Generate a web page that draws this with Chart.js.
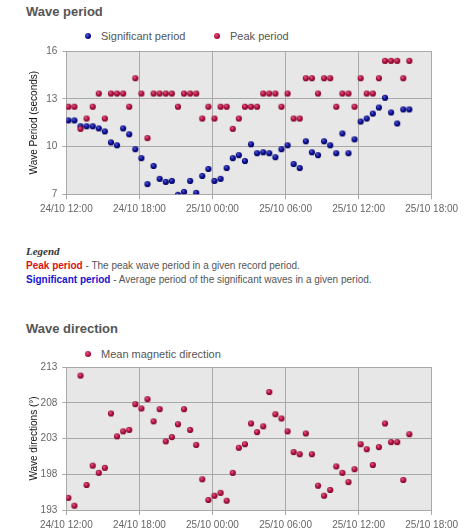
<!DOCTYPE html>
<html>
<head>
<meta charset="utf-8">
<script src="https://cdn.jsdelivr.net/npm/chart.js@4/dist/chart.umd.min.js"></script>
<style>
  html, body { margin:0; padding:0; background:#fff; }
  body { width:476px; height:532px; position:relative; overflow:hidden; font-family:"Liberation Sans", Arial, Helvetica, sans-serif; }
  .title { position:absolute; left:26px; font-weight:bold; font-size:13px; color:#555; line-height:16px; }
  .leg { position:absolute; font-size:11px; color:#555; line-height:14px; white-space:nowrap; }
  .dot { position:absolute; width:6px; height:6px; border-radius:50%; }
  .dot.red { background: radial-gradient(circle at 35% 35%, #e8507c 0%, #b01040 55%, #6a0020 100%); }
  .dot.blue { background: radial-gradient(circle at 35% 35%, #4a5ad8 0%, #0c0c90 55%, #000050 100%); }
  .note { position:absolute; left:26px; font-size:10px; color:#555; line-height:13px; white-space:nowrap; }
  canvas { position:absolute; left:0; }
</style>
</head>
<body>
<div class="title" style="top:4px;">Wave period</div>
<div class="dot blue" style="left:85px; top:33px;"></div>
<div class="leg" style="left:101px; top:29px;">Significant period</div>
<div class="dot red" style="left:214px; top:33px;"></div>
<div class="leg" style="left:230px; top:29px;">Peak period</div>
<canvas id="c1" width="476" height="185" style="top:40px;"></canvas>

<div class="note" style="top:245px; font-family:'Liberation Serif','Times New Roman',serif; font-style:italic; font-weight:bold; color:#333; font-size:11px;">Legend</div>
<div class="note" style="top:259px;"><b style="color:#e01010;">Peak period</b> - The peak wave period in a given record period.</div>
<div class="note" style="top:272.5px;"><b style="color:#1515d0;">Significant period</b> - Average period of the significant waves in a given period.</div>

<div class="title" style="top:321px;">Wave direction</div>
<div class="dot red" style="left:85px; top:351px;"></div>
<div class="leg" style="left:101px; top:347px;">Mean magnetic direction</div>
<canvas id="c2" width="476" height="176" style="top:356px;"></canvas>

<script>
// ---- data ----
const times = [
  '24/10 12:10','24/10 12:40','24/10 13:10','24/10 13:40','24/10 14:10','24/10 14:40',
  '24/10 15:10','24/10 15:40','24/10 16:10','24/10 16:40','24/10 17:10','24/10 17:40',
  '24/10 18:10','24/10 18:40','24/10 19:10','24/10 19:40','24/10 20:10','24/10 20:40',
  '24/10 21:10','24/10 21:40','24/10 22:10','24/10 22:40','24/10 23:10','24/10 23:40',
  '25/10 00:10','25/10 00:40','25/10 01:10','25/10 01:40','25/10 02:10','25/10 02:40',
  '25/10 03:10','25/10 03:40','25/10 04:10','25/10 04:40','25/10 05:10','25/10 05:40',
  '25/10 06:10','25/10 06:40','25/10 07:10','25/10 07:40','25/10 08:10','25/10 08:40',
  '25/10 09:10','25/10 09:40','25/10 10:10','25/10 10:40','25/10 11:10','25/10 11:40',
  '25/10 12:10','25/10 12:40','25/10 13:10','25/10 13:40','25/10 14:10','25/10 14:40',
  '25/10 15:10','25/10 15:40','25/10 16:10'
];
const peakPeriod = [
  12.5,12.5,11.11,11.76,12.5,13.33,11.76,13.33,13.33,13.33,
  12.5,14.29,13.33,10.53,13.33,13.33,13.33,13.33,12.5,13.33,
  13.33,13.33,11.76,12.5,11.76,12.5,12.5,11.11,11.76,12.5,
  12.5,12.5,13.33,13.33,13.33,12.5,13.33,11.76,11.76,14.29,
  14.29,13.33,14.29,14.29,12.5,13.33,13.33,12.5,14.29,13.33,
  13.33,14.29,15.38,15.38,15.38,14.29,15.38
];
const significantPeriod = [
  11.64,11.64,11.27,11.27,11.27,11.14,10.95,10.26,10.08,11.14,
  10.77,9.83,9.27,7.64,8.78,7.97,7.78,7.84,6.97,7.15,
  7.84,7.09,8.15,8.59,7.84,7.97,8.65,9.27,9.46,9.09,
  10.14,9.58,9.64,9.58,9.33,9.83,10.08,8.9,8.65,10.33,
  9.64,9.46,10.33,10.08,9.58,10.82,9.58,10.45,11.57,11.76,
  12.07,12.45,13.06,12.14,11.45,12.33,12.33
];
const meanDirection = [
  194.7,193.6,211.8,196.5,199.2,198.2,198.9,206.5,203.3,204.0,
  204.2,207.8,207.2,208.5,205.4,207.1,202.6,203.2,205.0,207.1,
  204.2,202.1,197.3,194.4,195.0,195.4,194.3,198.2,201.7,202.2,
  205.1,203.9,204.7,209.5,206.4,205.8,204.0,201.1,200.8,203.7,
  200.8,196.4,195.0,195.8,199.1,198.2,196.9,198.7,202.2,201.5,
  199.3,201.8,205.1,202.5,202.5,197.2,203.6
];
const xTickLabels = ['24/10 12:00','24/10 18:00','25/10 00:00','25/10 06:00','25/10 12:00','25/10 18:00'];
const periodTicks = [7,10,13,16];
const directionTicks = [193,198,203,208,213];

// ---- helpers ----
function toHours(s){ // hours since 24/10 00:00
  const [d,t] = s.split(' ');
  const day = parseInt(d.split('/')[0],10);
  const [h,m] = t.split(':').map(Number);
  return (day-24)*24 + h + m/60;
}
function pts(vals){ return vals.map((v,i)=>({x:toHours(times[i]), y:v})); }
function ball(c0,c1,c2){
  const cv = document.createElement('canvas'); cv.width=8; cv.height=8;
  const g = cv.getContext('2d');
  const gr = g.createRadialGradient(3,2.8,0.2,4,4,3.3);
  gr.addColorStop(0,c0); gr.addColorStop(0.55,c1); gr.addColorStop(1,c2);
  g.fillStyle = gr; g.beginPath(); g.arc(4,4,3.1,0,Math.PI*2); g.fill();
  return cv;
}
const redBall = ball('#ee6088','#b01040','#700022');
const blueBall = ball('#5060e0','#0c0c92','#000050');

const bgPlugin = {
  id:'plotbg',
  beforeDraw(chart){
    const {ctx, chartArea:a} = chart;
    ctx.save(); ctx.fillStyle='#e7e7e7';
    ctx.fillRect(a.left,a.top,a.right-a.left,a.bottom-a.top); ctx.restore();
  }
};
const tickFont = {family:'"Liberation Sans", Arial, sans-serif', size:10};
const xTickVals = xTickLabels.map(toHours);

function makeOptions(yTicks, yTitle, padTop, xHeight){
  return {
    responsive:false, animation:false, events:[],
    layout:{padding:{top:padTop, left:0, right:44.3, bottom:0}},
    plugins:{legend:{display:false}, tooltip:{enabled:false}},
    scales:{
      x:{
        type:'linear', min:xTickVals[0], max:xTickVals[xTickVals.length-1],
        afterBuildTicks(s){ s.ticks = xTickVals.map(v=>({value:v})); },
        afterFit(s){ s.height = xHeight; },
        ticks:{ autoSkip:false, maxRotation:0, color:'#666', font:tickFont, padding:4,
          callback(v,i){ return xTickLabels[i]; } },
        grid:{ color:'#a9a9a9', tickLength:5, drawTicks:true },
        border:{ color:'#a9a9a9' }
      },
      y:{
        type:'linear', min:yTicks[0], max:yTicks[yTicks.length-1],
        afterBuildTicks(s){ s.ticks = yTicks.map(v=>({value:v})); },
        afterFit(s){ s.width = 66.3; },
        ticks:{ color:'#666', font:tickFont, padding:5, callback(v){ return String(v); } },
        grid:{ color:'#a9a9a9', tickLength:4, drawTicks:true },
        border:{ color:'#a9a9a9' },
        title:{ display:true, text:yTitle, color:'#111', font:{family:'"Liberation Sans", Arial, sans-serif', size:10}, padding:{top:28.5,bottom:0} }
      }
    }
  };
}

new Chart(document.getElementById('c1'), {
  type:'scatter',
  data:{ datasets:[
    { label:'Significant period', data:pts(significantPeriod), pointStyle:blueBall, order:2 },
    { label:'Peak period', data:pts(peakPeriod), pointStyle:redBall, order:1 }
  ]},
  options: makeOptions(periodTicks, 'Wave Period (seconds)', 10, 30.7),
  plugins:[bgPlugin]
});

new Chart(document.getElementById('c2'), {
  type:'scatter',
  data:{ datasets:[
    { label:'Mean magnetic direction', data:pts(meanDirection), pointStyle:redBall }
  ]},
  options: makeOptions(directionTicks, 'Wave directions (°)', 10.7, 22),
  plugins:[bgPlugin]
});
</script>
</body>
</html>
